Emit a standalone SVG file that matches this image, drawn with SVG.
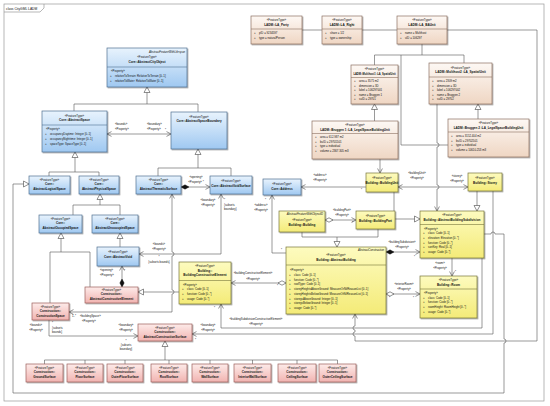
<svg xmlns="http://www.w3.org/2000/svg" width="550" height="406" viewBox="0 0 550 406">
<defs>
<linearGradient id="gB" x1="0" y1="0" x2="0" y2="1"><stop offset="0" stop-color="#e8f3fd"/><stop offset="1" stop-color="#9fc8f1"/></linearGradient>
<linearGradient id="gP" x1="0" y1="0" x2="0" y2="1"><stop offset="0" stop-color="#fdf8f4"/><stop offset="1" stop-color="#efd6c3"/></linearGradient>
<linearGradient id="gY" x1="0" y1="0" x2="0" y2="1"><stop offset="0" stop-color="#fdfbbf"/><stop offset="1" stop-color="#f4eb78"/></linearGradient>
<linearGradient id="gK" x1="0" y1="0" x2="0" y2="1"><stop offset="0" stop-color="#fdebe9"/><stop offset="1" stop-color="#f1b3b0"/></linearGradient>
<filter id="sh" x="-10%" y="-10%" width="130%" height="140%"><feDropShadow dx="1" dy="1" stdDeviation="0.5" flood-color="#000" flood-opacity="0.35"/></filter>
<marker id="ar" markerUnits="userSpaceOnUse" markerWidth="8" markerHeight="8" refX="6" refY="4" orient="auto" overflow="visible"><path d="M1.5,1.6 L6,4 L1.5,6.4" fill="none" stroke="#444" stroke-width="0.6"/></marker>
<marker id="ars" markerUnits="userSpaceOnUse" markerWidth="8" markerHeight="8" refX="0" refY="4" orient="auto" overflow="visible"><path d="M4.5,1.6 L0,4 L4.5,6.4" fill="none" stroke="#444" stroke-width="0.6"/></marker>
<marker id="tri" markerUnits="userSpaceOnUse" markerWidth="8" markerHeight="8" refX="6" refY="4" orient="auto" overflow="visible"><path d="M0.5,1 L6,4 L0.5,7 Z" fill="#fff" stroke="#444" stroke-width="0.6"/></marker>
<marker id="dF" markerUnits="userSpaceOnUse" markerWidth="10" markerHeight="8" refX="0" refY="4" orient="auto" overflow="visible"><path d="M0,4 L4,1.8 L8,4 L4,6.2 Z" fill="#111" stroke="#111" stroke-width="0.4"/></marker>
<marker id="dH" markerUnits="userSpaceOnUse" markerWidth="10" markerHeight="8" refX="0" refY="4" orient="auto" overflow="visible"><path d="M0,4 L4,1.8 L8,4 L4,6.2 Z" fill="#fff" stroke="#444" stroke-width="0.6"/></marker>
</defs>
<style>
.b{fill:url(#gB);stroke:#4f6f91;stroke-width:0.7;filter:url(#sh)}
.p{fill:url(#gP);stroke:#8c6f60;stroke-width:0.7;filter:url(#sh)}
.y{fill:url(#gY);stroke:#77753a;stroke-width:0.7;filter:url(#sh)}
.k{fill:url(#gK);stroke:#9b5f5c;stroke-width:0.7;filter:url(#sh)}
.sb{stroke:#4f6f91;stroke-width:0.6}
.sp{stroke:#8c6f60;stroke-width:0.6}
.sy{stroke:#77753a;stroke-width:0.6}
text{font-family:"Liberation Sans",Arial,sans-serif;fill:#111}
.s{font-size:2.9px;text-anchor:middle}
.n{font-size:3.1px;font-weight:bold;text-anchor:middle}
.a{font-size:2.8px}
.i{font-size:2.8px;font-style:italic;text-anchor:end}
.l{font-size:2.8px}
.m{font-size:2.8px;text-anchor:middle}
.c{fill:none;stroke:#555;stroke-width:0.6}
</style>
<rect x="0" y="0" width="550" height="406" fill="#fff"/>
<g id="frame">
<rect x="4" y="4" width="540" height="397" fill="#fff" stroke="#999" stroke-width="0.7"/>
<path d="M4,12 H40 L44,8 V4" fill="none" stroke="#999" stroke-width="0.7"/>
<text x="6" y="10" style="font-size:3.3px">class CityGML LADM</text>
</g>

<g id="connectors">
<path class="c" d="M74,111 V104 H198 V112"/>
<path class="c" d="M147,104 V87" marker-end="url(#tri)"/>
<path class="c" d="M49,176 V172 H99 V176"/>
<path class="c" d="M75,172 V152" marker-end="url(#tri)"/>
<path class="c" d="M73,215 V205 H120 V215"/>
<path class="c" d="M100,205 V194" marker-end="url(#tri)"/>
<path class="c" d="M120,247 V233" marker-end="url(#tri)"/>
<path class="c" d="M50,303 V252 H90 V287"/>
<path class="c" d="M61,252 V233" marker-end="url(#tri)"/>
<path class="c" d="M158,176 V168 H231 V176"/>
<path class="c" d="M198,168 V149" marker-end="url(#tri)"/>
<path class="c" d="M179,292 H138" marker-end="url(#tri)"/>
<path class="c" d="M44.5,364 V360 H337.5 V364 M85,360 V364 M125,360 V364 M169,360 V364 M210,360 V364 M252.5,360 V364 M297,360 V364"/>
<path class="c" d="M165,360 V341" marker-end="url(#tri)"/>
<path class="c" d="M302,232 V237 H378 V229"/>
<path class="c" d="M337,237 V247" marker-end="url(#tri)"/>
<path class="c" d="M477,191 V211" marker-end="url(#tri)"/>
<path class="c" d="M394,192 V219 H420" marker-end="url(#tri)"/>
<path class="c" d="M374.5,121 V104" marker-end="url(#tri)"/>
<path class="c" d="M478,119 V104" marker-end="url(#tri)"/>
<path class="c" d="M484,234 H491 A2,2 0 0 1 495,234 H504 V339 A2,2 0 0 1 504,343 V393 H13 V184 H29" marker-end="url(#tri)"/>
<path class="c" d="M107,134 H171" marker-start="url(#ars)" marker-end="url(#ar)"/>
<path class="c" d="M122,287 V266" marker-start="url(#dF)" marker-end="url(#ar)"/>
<path class="c" d="M181,187 H210" marker-start="url(#dF)" marker-end="url(#ar)"/>
<path class="c" d="M139,254 H221 V194" marker-start="url(#ars)" marker-end="url(#ar)"/>
<path class="c" d="M172,194 V252 A2,2 0 0 1 172,256 V290 A2,2 0 0 1 172,294 V312 H69" marker-start="url(#ars)" marker-end="url(#ar)"/>
<path class="c" d="M49,320 V336 H138" marker-end="url(#ar)"/>
<path class="c" d="M493,191 V334 H192" marker-end="url(#ar)"/>
<path class="c" d="M482,258 V328 H221 V304" marker-end="url(#ar)"/>
<path class="c" d="M286,283 H231" marker-start="url(#dH)" marker-end="url(#ar)"/>
<path class="c" d="M447,30 H537 V341 H355 V336 A2,2 0 0 1 355,332 V330 A2,2 0 0 1 355,326 V314" marker-end="url(#ar)"/>
<path class="c" d="M386,294 H420" marker-start="url(#dH)" marker-end="url(#ar)"/>
<path class="c" d="M452,258 V276" marker-end="url(#ar)"/>
<path class="c" d="M386,252 H420" marker-start="url(#dF)" marker-end="url(#ar)"/>
<path class="c" d="M380,159 V173" marker-end="url(#ar)"/>
<path class="c" d="M366,187 H301" marker-end="url(#ar)"/>
<path class="c" d="M286,253 H272 V195" marker-end="url(#ar)"/>
<path class="c" d="M398,187 H468" marker-start="url(#ars)" marker-end="url(#ar)"/>
<path class="c" d="M325,220 H356" marker-start="url(#dH)" marker-end="url(#ar)"/>
<path class="c" d="M437,104 V143 A2,2 0 0 1 437,147 V185 A2,2 0 0 1 437,189 V211" marker-end="url(#ar)"/>
<path class="c" d="M422,44 V55 M374.5,65 V55 H464 V63"/>
<path class="c" d="M401,55 V145 H448"/>
<path class="c" d="M302,30 H322 M362,30 H397"/>
<text class="l" x="115" y="125">«bounds»</text><text class="l" x="115" y="129.5">«Property»</text>
<text class="l" x="147" y="125">«boundary»</text><text class="l" x="147" y="129.5">«Property»</text><text class="l" x="165" y="131">*</text>
<text class="l" x="100" y="271">«opening»</text><text class="l" x="100" y="275.5">«Property»</text><text class="l" x="124" y="272">*</text>
<text class="m" x="196" y="178">«opening»</text><text class="m" x="196" y="182.5">«Property» *</text>
<text class="m" x="208" y="201">«boundary»</text><text class="m" x="208" y="205.5">«Property»</text>
<text class="l" x="224" y="201">*</text><text class="l" x="224" y="205.5">{subsets</text><text class="l" x="224" y="210">boundary}</text>
<text class="m" x="159" y="245">«bounds»</text><text class="m" x="159" y="249.5">«Property»</text>
<text class="m" x="159" y="258">*</text><text class="m" x="159" y="263">{subsets bounds}</text>
<text class="l" x="72" y="317">1..*</text><text class="l" x="80" y="317">«buildingSpace»</text><text class="l" x="82" y="321.5">«Property»</text>
<text class="m" x="36" y="326">«bounds»</text><text class="m" x="36" y="330.5">«Property»</text>
<text class="l" x="52" y="324">*</text><text class="l" x="52" y="329">{subsets</text><text class="l" x="52" y="333">bounds}</text>
<text class="m" x="126" y="326">«boundary»</text><text class="m" x="126" y="330.5">«Property»</text>
<text class="m" x="126" y="342">*</text><text class="m" x="126" y="346">{subsets</text><text class="m" x="126" y="350">boundary}</text>
<text class="m" x="208" y="326">«boundary»</text><text class="m" x="208" y="330.5">«Property»</text><text class="l" x="195" y="341">*</text>
<text class="m" x="256" y="320">«buildingSubdivisionConstructiveElement»</text><text class="m" x="256" y="324.5">«Property»</text><text class="l" x="214" y="309">*</text>
<text class="m" x="253" y="274">«buildingConstructiveElement»</text><text class="m" x="253" y="279.5">«Property»</text><text class="l" x="224" y="289">*</text><text class="l" x="277" y="287">*</text>
<text class="m" x="404" y="285">«interiorRoom»</text><text class="m" x="404" y="289.5">«Property»</text><text class="l" x="389" y="299">*</text><text class="l" x="413" y="299">*</text>
<text class="m" x="440" y="264">«room»</text><text class="m" x="440" y="268.5">«Property»</text><text class="l" x="455" y="273">*</text>
<text class="m" x="402" y="243">«buildingSubdivision»</text><text class="m" x="402" y="247.5">«Property»</text><text class="l" x="414" y="258">*</text>
<text class="m" x="320" y="176">«address»</text><text class="m" x="320" y="180.5">«Property»</text><text class="l" x="361" y="191">*</text>
<text class="l" x="265" y="201">*</text><text class="m" x="261" y="206">«address»</text><text class="m" x="261" y="210.5">«Property»</text><text class="l" x="281" y="251">*</text>
<text class="m" x="417" y="174">«buildingUnit»</text><text class="m" x="417" y="178.5">«Property»</text>
<text class="m" x="457" y="177">«storey»</text><text class="m" x="457" y="181.5">«Property»</text>
<text class="m" x="342" y="211">«buildingPart»</text><text class="m" x="342" y="215.5">«Property»</text><text class="l" x="352" y="224">*</text>
</g>

<g id="core-abstractcityobject">
<rect class="b" x="107" y="48" width="80" height="39"/>
<text class="i" x="185" y="52.5">AbstractFeatureWithLifespan</text>
<text class="s" x="147" y="58">«FeatureType»</text>
<text class="n" x="147" y="62.5">Core::AbstractCityObject</text>
<line class="sb" x1="107" y1="67" x2="187" y2="67"/>
<text class="a" x="111" y="72">«Property»</text>
<text class="a" x="110" y="77">+</text><text class="a" x="115" y="77">relativeToTerrain: RelativeToTerrain [0..1]</text>
<text class="a" x="110" y="81.5">+</text><text class="a" x="115" y="81.5">relativeToWater: RelativeToWater [0..1]</text>
</g>
<g id="core-abstractspace">
<rect class="b" x="42" y="111" width="65" height="41"/>
<text class="s" x="74.5" y="116.5">«FeatureType»</text>
<text class="n" x="74.5" y="121">Core::AbstractSpace</text>
<line class="sb" x1="42" y1="125" x2="107" y2="125"/>
<text class="a" x="46" y="130">«Property»</text>
<text class="a" x="45" y="135">+</text><text class="a" x="50" y="135">occupancyDaytime: Integer [0..1]</text>
<text class="a" x="45" y="140">+</text><text class="a" x="50" y="140">occupancyNighttime: Integer [0..1]</text>
<text class="a" x="45" y="145">+</text><text class="a" x="50" y="145">spaceType: SpaceType [0..1]</text>
</g>
<g id="core-abstractspaceboundary">
<rect class="b" x="171" y="112" width="56" height="37"/>
<text class="s" x="199" y="117.5">«FeatureType»</text>
<text class="n" x="199" y="122">Core::AbstractSpaceBoundary</text>
</g>
<g id="core-abstractlogicalspace">
<rect class="b" x="29" y="176" width="41" height="18"/>
<text class="s" x="49.5" y="180.5">«FeatureType»</text>
<text class="n" x="49.5" y="185">Core::</text>
<text class="n" x="49.5" y="189.5">AbstractLogicalSpace</text>
</g>
<g id="core-abstractphysicalspace">
<rect class="b" x="79" y="176" width="40" height="18"/>
<text class="s" x="99" y="180.5">«FeatureType»</text>
<text class="n" x="99" y="185">Core::</text>
<text class="n" x="99" y="189.5">AbstractPhysicalSpace</text>
</g>
<g id="core-abstractoccupiedspace">
<rect class="b" x="39" y="215" width="43" height="18"/>
<text class="s" x="60.5" y="219.5">«FeatureType»</text>
<text class="n" x="60.5" y="224">Core::</text>
<text class="n" x="60.5" y="228.5">AbstractOccupiedSpace</text>
</g>
<g id="core-abstractunoccupiedspace">
<rect class="b" x="92" y="215" width="46" height="18"/>
<text class="s" x="115" y="219.5">«FeatureType»</text>
<text class="n" x="115" y="224">Core::</text>
<text class="n" x="115" y="228.5">AbstractUnoccupiedSpace</text>
</g>
<g id="core-abstractvoid">
<rect class="b" x="97" y="247" width="42" height="19"/>
<text class="s" x="118" y="252.5">«FeatureType»</text>
<text class="n" x="118" y="257.5">Core::AbstractVoid</text>
</g>
<g id="core-abstractthematicsurface">
<rect class="b" x="136" y="176" width="45" height="18"/>
<text class="s" x="158.5" y="180.5">«FeatureType»</text>
<text class="n" x="158.5" y="185">Core::</text>
<text class="n" x="158.5" y="189.5">AbstractThematicSurface</text>
</g>
<g id="core-abstractvoidsurface">
<rect class="b" x="210" y="176" width="42" height="18"/>
<text class="s" x="231" y="182">«FeatureType»</text>
<text class="n" x="231" y="187">Core::AbstractVoidSurface</text>
</g>
<g id="core-address">
<rect class="b" x="263" y="179" width="38" height="16"/>
<text class="s" x="282" y="184.5">«FeatureType»</text>
<text class="n" x="282" y="189.5">Core::Address</text>
</g>

<g id="ladm-la-party">
<rect class="p" x="251" y="16" width="51" height="28"/>
<text class="s" x="276.5" y="21">«FeatureType»</text>
<text class="n" x="276.5" y="25.5">LADM::LA_Party</text>
<line class="sp" x1="251" y1="29" x2="302" y2="29"/>
<text class="a" x="254" y="33.5">+</text><text class="a" x="259" y="33.5">pID = 9234597</text>
<text class="a" x="254" y="38.5">+</text><text class="a" x="259" y="38.5">type = naturalPerson</text>
</g>
<g id="ladm-la-right">
<rect class="p" x="322" y="16" width="40" height="28"/>
<text class="s" x="342" y="21">«FeatureType»</text>
<text class="n" x="342" y="25.5">LADM::LA_Right</text>
<line class="sp" x1="322" y1="29" x2="362" y2="29"/>
<text class="a" x="325" y="33.5">+</text><text class="a" x="330" y="33.5">share = 1/2</text>
<text class="a" x="325" y="38.5">+</text><text class="a" x="330" y="38.5">type = ownership</text>
</g>
<g id="ladm-la-baunit">
<rect class="p" x="397" y="16" width="50" height="28"/>
<text class="s" x="422" y="21">«FeatureType»</text>
<text class="n" x="422" y="25.5">LADM::LA_BAUnit</text>
<line class="sp" x1="397" y1="29" x2="447" y2="29"/>
<text class="a" x="400" y="33.5">+</text><text class="a" x="405" y="33.5">name = Multihost</text>
<text class="a" x="400" y="38.5">+</text><text class="a" x="405" y="38.5">uID = 106297</text>
</g>
<g id="ladm-su1">
<rect class="p" x="351" y="65" width="47" height="39"/>
<text class="s" x="374.5" y="70">«FeatureType»</text>
<text class="n" x="374.5" y="74.5" style="font-size:2.6px">LADM::Multihost1 :LA_SpatialUnit</text>
<line class="sp" x1="351" y1="77.5" x2="398" y2="77.5"/>
<text class="a" x="354" y="82">+</text><text class="a" x="359" y="82">area = 3571 m2</text>
<text class="a" x="354" y="86.5">+</text><text class="a" x="359" y="86.5">dimension = 3D</text>
<text class="a" x="354" y="91">+</text><text class="a" x="359" y="91">label = 106297001</text>
<text class="a" x="354" y="95.5">+</text><text class="a" x="359" y="95.5">name = Bruggen 1</text>
<text class="a" x="354" y="100">+</text><text class="a" x="359" y="100">suID = 29701</text>
</g>
<g id="ladm-su2">
<rect class="p" x="429" y="63" width="63" height="41"/>
<text class="s" x="460.5" y="68.5">«FeatureType»</text>
<text class="n" x="460.5" y="73">LADM::Multihost2 :LA_SpatialUnit</text>
<line class="sp" x1="429" y1="77" x2="492" y2="77"/>
<text class="a" x="432" y="82">+</text><text class="a" x="437" y="82">area = 2309 m2</text>
<text class="a" x="432" y="86.5">+</text><text class="a" x="437" y="86.5">dimension = 3D</text>
<text class="a" x="432" y="91">+</text><text class="a" x="437" y="91">label = 106297002</text>
<text class="a" x="432" y="95.5">+</text><text class="a" x="437" y="95.5">name = Bruggen 2</text>
<text class="a" x="432" y="100">+</text><text class="a" x="437" y="100">suID = 29702</text>
</g>
<g id="ladm-legal1">
<rect class="p" x="312" y="121" width="86" height="38"/>
<text class="s" x="355" y="126">«FeatureType»</text>
<text class="n" x="355" y="130.5">LADM::Bruggen 1 :LA_LegalSpaceBuildingUnit</text>
<line class="sp" x1="312" y1="133.5" x2="398" y2="133.5"/>
<text class="a" x="315" y="138">+</text><text class="a" x="320" y="138">area = 612.987 m2</text>
<text class="a" x="315" y="142.5">+</text><text class="a" x="320" y="142.5">buID = 29701501</text>
<text class="a" x="315" y="147">+</text><text class="a" x="320" y="147">type = individual</text>
<text class="a" x="315" y="151.5">+</text><text class="a" x="320" y="151.5">volume = 2367.305 m3</text>
</g>
<g id="ladm-legal2">
<rect class="p" x="448" y="119" width="81" height="38"/>
<text class="s" x="488.5" y="124">«FeatureType»</text>
<text class="n" x="488.5" y="128.5">LADM::Bruggen 2 :LA_LegalSpaceBuildingUnit</text>
<line class="sp" x1="448" y1="132" x2="529" y2="132"/>
<text class="a" x="451" y="137">+</text><text class="a" x="456" y="137">area = 3152.404 m2</text>
<text class="a" x="451" y="141.5">+</text><text class="a" x="456" y="141.5">buID = 29702501</text>
<text class="a" x="451" y="146">+</text><text class="a" x="456" y="146">type = individual</text>
<text class="a" x="451" y="150.5">+</text><text class="a" x="456" y="150.5">volume = 10610.253 m3</text>
</g>

<g id="building-buildingunit">
<rect class="y" x="366" y="173" width="32" height="19"/>
<text class="s" x="382" y="179">«FeatureType»</text>
<text class="n" x="382" y="184">Building::BuildingUnit</text>
</g>
<g id="building-storey">
<rect class="y" x="468" y="173" width="34" height="18"/>
<text class="s" x="485" y="179">«FeatureType»</text>
<text class="n" x="485" y="184">Building::Storey</text>
</g>
<g id="building-buildingpart">
<rect class="y" x="356" y="211" width="39" height="18"/>
<text class="s" x="375.5" y="217">«FeatureType»</text>
<text class="n" x="375.5" y="222">Building::BuildingPart</text>
</g>
<g id="building-building">
<rect class="y" x="279" y="211" width="46" height="21"/>
<text class="i" x="323" y="215">AbstractFeatureWithObjectID</text>
<text class="s" x="302" y="221">«FeatureType»</text>
<text class="n" x="302" y="226">Building::Building</text>
</g>
<g id="building-abstractbuilding">
<rect class="y" x="286" y="247" width="100" height="67"/>
<text class="i" x="384" y="251">AbstractConstruction</text>
<text class="s" x="336" y="256">«FeatureType»</text>
<text class="n" x="336" y="261">Building::AbstractBuilding</text>
<line class="sy" x1="286" y1="265" x2="386" y2="265"/>
<text class="a" x="290" y="271">«Property»</text>
<text class="a" x="289" y="276">+</text><text class="a" x="294" y="276">class: Code [0..1]</text>
<text class="a" x="289" y="280.7">+</text><text class="a" x="294" y="280.7">function: Code [0..*]</text>
<text class="a" x="289" y="285.4">+</text><text class="a" x="294" y="285.4">roofType: Code [0..1]</text>
<text class="a" x="289" y="290.1">+</text><text class="a" x="294" y="290.1">storeyHeightsAboveGround: MeasureOrNilReasonList [0..1]</text>
<text class="a" x="289" y="294.8">+</text><text class="a" x="294" y="294.8">storeyHeightsBelowGround: MeasureOrNilReasonList [0..1]</text>
<text class="a" x="289" y="299.5">+</text><text class="a" x="294" y="299.5">storeysAboveGround: Integer [0..1]</text>
<text class="a" x="289" y="304.2">+</text><text class="a" x="294" y="304.2">storeysBelowGround: Integer [0..1]</text>
<text class="a" x="289" y="308.9">+</text><text class="a" x="294" y="308.9">usage: Code [0..*]</text>
</g>
<g id="building-abstractbuildingsubdivision">
<rect class="y" x="420" y="211" width="64" height="47"/>
<text class="s" x="452" y="216">«FeatureType»</text>
<text class="n" x="452" y="220.5">Building::AbstractBuildingSubdivision</text>
<line class="sy" x1="420" y1="224.5" x2="484" y2="224.5"/>
<text class="a" x="424" y="229.5">«Property»</text>
<text class="a" x="423" y="234.2">+</text><text class="a" x="428" y="234.2">class: Code [0..1]</text>
<text class="a" x="423" y="238.9">+</text><text class="a" x="428" y="238.9">elevation: Elevation [0..*]</text>
<text class="a" x="423" y="243.6">+</text><text class="a" x="428" y="243.6">function: Code [0..*]</text>
<text class="a" x="423" y="248.3">+</text><text class="a" x="428" y="248.3">sortKey: Real [0..1]</text>
<text class="a" x="423" y="253">+</text><text class="a" x="428" y="253">usage: Code [0..*]</text>
</g>
<g id="building-room">
<rect class="y" x="420" y="276" width="57" height="42"/>
<text class="s" x="448.5" y="281">«FeatureType»</text>
<text class="n" x="448.5" y="285.5">Building::Room</text>
<line class="sy" x1="420" y1="289" x2="477" y2="289"/>
<text class="a" x="424" y="294">«Property»</text>
<text class="a" x="423" y="298.7">+</text><text class="a" x="428" y="298.7">class: Code [0..1]</text>
<text class="a" x="423" y="303.4">+</text><text class="a" x="428" y="303.4">function: Code [0..*]</text>
<text class="a" x="423" y="308.1">+</text><text class="a" x="428" y="308.1">roomHeight: RoomHeight [0..*]</text>
<text class="a" x="423" y="312.8">+</text><text class="a" x="428" y="312.8">usage: Code [0..*]</text>
</g>
<g id="building-buildingconstructiveelement">
<rect class="y" x="179" y="262" width="52" height="42"/>
<text class="s" x="205" y="267">«FeatureType»</text>
<text class="n" x="205" y="271.5">Building::</text>
<text class="n" x="205" y="276">BuildingConstructiveElement</text>
<line class="sy" x1="179" y1="280.5" x2="231" y2="280.5"/>
<text class="a" x="183" y="285.5">«Property»</text>
<text class="a" x="182" y="290.2">+</text><text class="a" x="187" y="290.2">class: Code [0..1]</text>
<text class="a" x="182" y="294.9">+</text><text class="a" x="187" y="294.9">function: Code [0..*]</text>
<text class="a" x="182" y="299.6">+</text><text class="a" x="187" y="299.6">usage: Code [0..*]</text>
</g>

<g id="construction-abstractconstructiveelement">
<rect class="k" x="85" y="287" width="53" height="16"/>
<text class="s" x="111.5" y="291">«FeatureType»</text>
<text class="n" x="111.5" y="295.2">Construction::</text>
<text class="n" x="111.5" y="299.6">AbstractConstructiveElement</text>
</g>
<g id="construction-constructionspace">
<rect class="k" x="32" y="303" width="37" height="17"/>
<text class="s" x="50.5" y="307.5">«FeatureType»</text>
<text class="n" x="50.5" y="312">Construction::</text>
<text class="n" x="50.5" y="316.5">ConstructionSpace</text>
</g>
<g id="construction-abstractconstructionsurface">
<rect class="k" x="138" y="324" width="54" height="17"/>
<text class="s" x="165" y="328.5">«FeatureType»</text>
<text class="n" x="165" y="333">Construction::</text>
<text class="n" x="165" y="337.5">AbstractConstructionSurface</text>
</g>
<g id="construction-groundsurface"><rect class="k" x="26" y="364" width="37" height="18"/><text class="s" x="44.5" y="368.5">«FeatureType»</text><text class="n" x="44.5" y="373">Construction::</text><text class="n" x="44.5" y="377.5">GroundSurface</text></g>
<g id="construction-floorsurface"><rect class="k" x="67" y="364" width="36" height="18"/><text class="s" x="85" y="368.5">«FeatureType»</text><text class="n" x="85" y="373">Construction::</text><text class="n" x="85" y="377.5">FloorSurface</text></g>
<g id="construction-outerfloorsurface"><rect class="k" x="107" y="364" width="36" height="18"/><text class="s" x="125" y="368.5">«FeatureType»</text><text class="n" x="125" y="373">Construction::</text><text class="n" x="125" y="377.5">OuterFloorSurface</text></g>
<g id="construction-roofsurface"><rect class="k" x="151" y="364" width="36" height="18"/><text class="s" x="169" y="368.5">«FeatureType»</text><text class="n" x="169" y="373">Construction::</text><text class="n" x="169" y="377.5">RoofSurface</text></g>
<g id="construction-wallsurface"><rect class="k" x="192" y="364" width="36" height="18"/><text class="s" x="210" y="368.5">«FeatureType»</text><text class="n" x="210" y="373">Construction::</text><text class="n" x="210" y="377.5">WallSurface</text></g>
<g id="construction-interiorwallsurface"><rect class="k" x="234" y="364" width="37" height="18"/><text class="s" x="252.5" y="368.5">«FeatureType»</text><text class="n" x="252.5" y="373">Construction::</text><text class="n" x="252.5" y="377.5">InteriorWallSurface</text></g>
<g id="construction-ceilingsurface"><rect class="k" x="278" y="364" width="38" height="18"/><text class="s" x="297" y="368.5">«FeatureType»</text><text class="n" x="297" y="373">Construction::</text><text class="n" x="297" y="377.5">CeilingSurface</text></g>
<g id="construction-outerceilingsurface"><rect class="k" x="319" y="364" width="37" height="18"/><text class="s" x="337.5" y="368.5">«FeatureType»</text><text class="n" x="337.5" y="373">Construction::</text><text class="n" x="337.5" y="377.5">OuterCeilingSurface</text></g>
</svg>
